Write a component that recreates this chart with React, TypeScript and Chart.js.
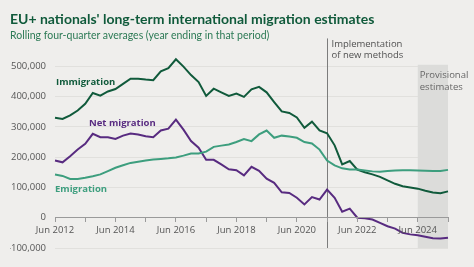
import { useEffect, useRef } from 'react';
import { Chart, registerables } from 'chart.js';

Chart.register(...registerables);

// Quarter ends, June 2012 to June 2025
const quarters = [
  'Jun 2012', 'Sep 2012', 'Dec 2012', 'Mar 2013',
  'Jun 2013', 'Sep 2013', 'Dec 2013', 'Mar 2014',
  'Jun 2014', 'Sep 2014', 'Dec 2014', 'Mar 2015',
  'Jun 2015', 'Sep 2015', 'Dec 2015', 'Mar 2016',
  'Jun 2016', 'Sep 2016', 'Dec 2016', 'Mar 2017',
  'Jun 2017', 'Sep 2017', 'Dec 2017', 'Mar 2018',
  'Jun 2018', 'Sep 2018', 'Dec 2018', 'Mar 2019',
  'Jun 2019', 'Sep 2019', 'Dec 2019', 'Mar 2020',
  'Jun 2020', 'Sep 2020', 'Dec 2020', 'Mar 2021',
  'Jun 2021', 'Sep 2021', 'Dec 2021', 'Mar 2022',
  'Jun 2022', 'Sep 2022', 'Dec 2022', 'Mar 2023',
  'Jun 2023', 'Sep 2023', 'Dec 2023', 'Mar 2024',
  'Jun 2024', 'Sep 2024', 'Dec 2024', 'Mar 2025',
  'Jun 2025',
];

const immigration = [
  330000, 326000, 338000, 354000, 376000, 412000, 403000, 417000,
  425000, 442000, 459000, 459000, 456000, 454000, 483000, 494000,
  523000, 499000, 471000, 448000, 402000, 426000, 414000, 402000,
  410000, 399000, 424000, 432000, 414000, 382000, 351000, 346000,
  331000, 297000, 317000, 288000, 279000, 239000, 176000, 187000,
  159000, 150000, 143000, 135000, 123000, 112000, 104000, 100000,
  96000, 89000, 83000, 81000, 87000,
];

const emigration = [
  143000, 138000, 128000, 128000, 132000, 137000, 143000, 154000,
  165000, 173000, 181000, 185000, 189000, 192000, 194000, 196000,
  199000, 205000, 212000, 212000, 218000, 234000, 238000, 242000,
  250000, 260000, 253000, 275000, 288000, 264000, 271000, 268000,
  264000, 250000, 245000, 225000, 189000, 173000, 163000, 159000,
  159000, 156000, 153000, 152000, 154000, 156000, 157000, 157000,
  156000, 155000, 154000, 154000, 158000,
];

const netMigration = [
  189000, 183000, 203000, 225000, 244000, 277000, 266000, 266000,
  260000, 271000, 278000, 275000, 269000, 266000, 288000, 294000,
  324000, 291000, 253000, 231000, 191000, 191000, 176000, 160000,
  157000, 140000, 168000, 155000, 129000, 115000, 84000, 82000,
  66000, 44000, 68000, 60000, 93000, 66000, 20000, 30000,
  0, -2000, -6000, -17000, -28000, -36000, -50000, -55000,
  -58000, -63000, -68000, -69000, -66000,
];

const yTicks = [-100000, 0, 100000, 200000, 300000, 400000, 500000];

const methodChange = 'Jun 2021';
const provisionalFrom = 'Jun 2024';

const COLORS = {
  immigration: '#105a3b',
  emigration: '#3d9e7e',
  net: '#582b80',
  axisText: '#555555',
  grid: '#e1e0dd',
  axis: '#9a9a9a',
  shade: '#dcdcda',
  bg: '#efeeec',
};

const FONT = "'Open Sans', sans-serif";

const notesPlugin = {
  id: 'notes',
  beforeDatasetsDraw(chart: any) {
    const { ctx, chartArea, scales } = chart;
    const x = scales.x;
    const y = scales.y;
    ctx.save();

    // provisional period shading
    const px0 = x.getPixelForValue(quarters.indexOf(provisionalFrom));
    const px1 = x.getPixelForValue(quarters.length - 1);
    const top = y.getPixelForValue(505000);
    ctx.fillStyle = COLORS.shade;
    ctx.fillRect(px0, top, px1 - px0, chartArea.bottom - top);

    // method change marker
    const mx = Math.round(x.getPixelForValue(quarters.indexOf(methodChange))) + 0.5;
    ctx.strokeStyle = '#7c7c7c';
    ctx.lineWidth = 1;
    ctx.beginPath();
    ctx.moveTo(mx, y.getPixelForValue(592000));
    ctx.lineTo(mx, chartArea.bottom);
    ctx.stroke();

    ctx.font = `9.5px ${FONT}`;
    ctx.textBaseline = 'middle';
    ctx.textAlign = 'left';
    ctx.fillStyle = '#505050';
    ctx.fillText('Implementation', mx + 4, y.getPixelForValue(573000));
    ctx.fillText('of new methods', mx + 4, y.getPixelForValue(535000));

    ctx.fillStyle = '#666666';
    ctx.fillText('Provisional', px0 + 2, y.getPixelForValue(469000));
    ctx.fillText('estimates', px0 + 2, y.getPixelForValue(432000));
    ctx.restore();
  },
  afterDatasetsDraw(chart: any) {
    const { ctx, scales } = chart;
    const x = scales.x;
    const y = scales.y;
    ctx.save();
    ctx.font = `bold 9.5px ${FONT}`;
    ctx.textBaseline = 'middle';
    ctx.textAlign = 'left';
    ctx.fillStyle = COLORS.immigration;
    ctx.fillText('Immigration', x.getPixelForValue(0) + 1, y.getPixelForValue(446000));
    ctx.fillStyle = COLORS.net;
    ctx.fillText('Net migration', x.getPixelForValue(4.5), y.getPixelForValue(311000));
    ctx.fillStyle = COLORS.emigration;
    ctx.fillText('Emigration', x.getPixelForValue(0), y.getPixelForValue(93000));
    ctx.restore();
  },
};

const isJune = (i: number) => quarters[i] && quarters[i].startsWith('Jun');

export default function App() {
  const canvasRef = useRef<HTMLCanvasElement | null>(null);

  useEffect(() => {
    if (!canvasRef.current) return;
    const line = (label: string, data: number[], color: string) => ({
      label,
      data,
      borderColor: color,
      backgroundColor: color,
      borderWidth: 2,
      pointRadius: 0,
      tension: 0,
      fill: false,
    });

    const chart = new Chart(canvasRef.current, {
      type: 'line',
      data: {
        labels: quarters,
        datasets: [
          line('Emigration', emigration, COLORS.emigration),
          line('Net migration', netMigration, COLORS.net),
          line('Immigration', immigration, COLORS.immigration),
        ],
      },
      options: {
        animation: false,
        responsive: false,
        layout: { padding: { left: 10, right: 26, top: 36, bottom: 19 } },
        plugins: {
          legend: { display: false },
          tooltip: { enabled: false },
        },
        scales: {
          x: {
            type: 'category',
            position: { y: 0 } as any,
            offset: false,
            afterFit(scale: any) {
              scale.height = 0;
            },
            border: { display: true, color: COLORS.axis, width: 1, z: 1 },
            grid: {
              drawOnChartArea: false,
              drawTicks: true,
              tickLength: 4,
              z: 1,
              color: (ctx: any) => (isJune(ctx.index) ? COLORS.axis : 'rgba(0,0,0,0)'),
              tickColor: (ctx: any) => (isJune(ctx.index) ? COLORS.axis : 'rgba(0,0,0,0)'),
            },
            ticks: {
              autoSkip: false,
              maxRotation: 0,
              padding: 3,
              z: 1,
              color: COLORS.axisText,
              font: { family: FONT, size: 9.5 },
              callback: (_v: any, i: number) => {
                const q = quarters[i];
                if (!isJune(i)) return '';
                return Number(q.slice(4)) % 2 === 0 ? q : '';
              },
            },
          },
          y: {
            type: 'linear',
            min: -100000,
            max: 600000,
            afterBuildTicks(scale: any) {
              scale.ticks = yTicks.map((v) => ({ value: v }));
            },
            afterFit(scale: any) {
              scale.width = 45;
            },
            border: { display: false },
            grid: { color: COLORS.grid, lineWidth: 1, drawTicks: false },
            ticks: {
              padding: 9,
              color: COLORS.axisText,
              font: { family: FONT, size: 9.5 },
              callback: (v: any) => Number(v).toLocaleString('en-US'),
            },
          },
        },
      },
      plugins: [notesPlugin],
    });
    return () => chart.destroy();
  }, []);

  return (
    <div
      style={{
        position: 'fixed',
        left: 0,
        top: 0,
        width: 474,
        height: 267,
        background: COLORS.bg,
        overflow: 'hidden',
      }}
    >
      <canvas
        ref={canvasRef}
        width={474}
        height={267}
        style={{ position: 'absolute', left: 0, top: 0, display: 'block' }}
      />
      <div
        style={{
          position: 'absolute',
          left: 10,
          top: 11,
          fontFamily: "Lato, 'Open Sans', sans-serif",
          fontWeight: 700,
          fontSize: 14,
          lineHeight: '16px',
          color: COLORS.immigration,
          whiteSpace: 'nowrap',
        }}
      >
        EU+ nationals' long-term international migration estimates
      </div>
      <div
        style={{
          position: 'absolute',
          left: 10,
          top: 29,
          fontFamily: "Lato, 'Open Sans', sans-serif",
          fontSize: 10.5,
          lineHeight: '13px',
          color: '#2c7a55',
          whiteSpace: 'nowrap',
        }}
      >
        Rolling four-quarter averages (year ending in that period)
      </div>
    </div>
  );
}
